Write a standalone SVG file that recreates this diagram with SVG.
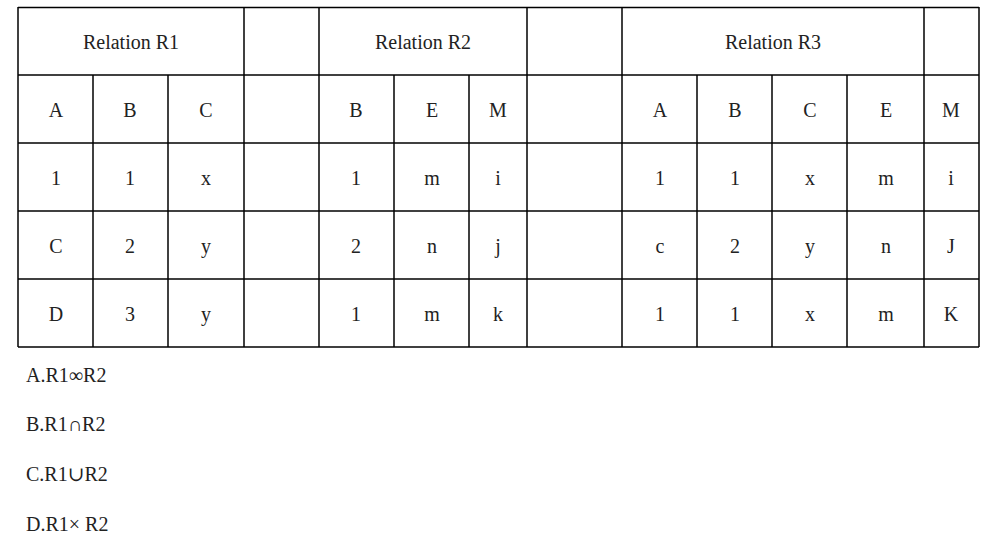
<svg xmlns="http://www.w3.org/2000/svg" width="997" height="543" viewBox="0 0 997 543">
<style>
.g line{stroke:#000;stroke-width:1.5}
text{font-family:"Liberation Serif","Times New Roman","DejaVu Serif",serif;font-size:20px;fill:#222;text-anchor:middle;dominant-baseline:central}
.o{text-anchor:start}
</style>
<rect width="997" height="543" fill="#fff"/>
<g id="grid" class="g">
<line x1="18" y1="7.5" x2="979" y2="7.5"/>
<line x1="18" y1="75" x2="979" y2="75"/>
<line x1="18" y1="143" x2="979" y2="143"/>
<line x1="18" y1="211" x2="979" y2="211"/>
<line x1="18" y1="279" x2="979" y2="279"/>
<line x1="18" y1="347" x2="979" y2="347"/>
<line x1="18" y1="7" x2="18" y2="347"/>
<line x1="244" y1="7" x2="244" y2="347"/>
<line x1="319" y1="7" x2="319" y2="347"/>
<line x1="527" y1="7" x2="527" y2="347"/>
<line x1="622" y1="7" x2="622" y2="347"/>
<line x1="924" y1="7" x2="924" y2="347"/>
<line x1="979" y1="7" x2="979" y2="347"/>
<line x1="93" y1="75" x2="93" y2="347"/>
<line x1="168" y1="75" x2="168" y2="347"/>
<line x1="394" y1="75" x2="394" y2="347"/>
<line x1="469" y1="75" x2="469" y2="347"/>
<line x1="697" y1="75" x2="697" y2="347"/>
<line x1="772" y1="75" x2="772" y2="347"/>
<line x1="847" y1="75" x2="847" y2="347"/>
</g>
<g id="cells">
<text x="131" y="42">Relation R1</text>
<text x="423" y="42">Relation R2</text>
<text x="773" y="42">Relation R3</text>
<text x="56" y="110">A</text><text x="130" y="110">B</text><text x="206" y="110">C</text>
<text x="356" y="110">B</text><text x="432" y="110">E</text><text x="498" y="110">M</text>
<text x="660" y="110">A</text><text x="735" y="110">B</text><text x="810" y="110">C</text><text x="886" y="110">E</text><text x="951" y="110">M</text>
<text x="56" y="178">1</text><text x="130" y="178">1</text><text x="206" y="178">x</text>
<text x="356" y="178">1</text><text x="432" y="178">m</text><text x="498" y="178">i</text>
<text x="660" y="178">1</text><text x="735" y="178">1</text><text x="810" y="178">x</text><text x="886" y="178">m</text><text x="951" y="178">i</text>
<text x="56" y="246">C</text><text x="130" y="246">2</text><text x="206" y="246">y</text>
<text x="356" y="246">2</text><text x="432" y="246">n</text><text x="498" y="246">j</text>
<text x="660" y="246">c</text><text x="735" y="246">2</text><text x="810" y="246">y</text><text x="886" y="246">n</text><text x="951" y="246">J</text>
<text x="56" y="314">D</text><text x="130" y="314">3</text><text x="206" y="314">y</text>
<text x="356" y="314">1</text><text x="432" y="314">m</text><text x="498" y="314">k</text>
<text x="660" y="314">1</text><text x="735" y="314">1</text><text x="810" y="314">x</text><text x="886" y="314">m</text><text x="951" y="314">K</text>
</g>
<g id="options">
<text class="o" x="26" y="375">A.R1∞R2</text>
<text class="o" x="26" y="424">B.R1∩R2</text>
<text class="o" x="26" y="474">C.R1∪R2</text>
<text class="o" x="26" y="524">D.R1× R2</text>
</g>
</svg>
